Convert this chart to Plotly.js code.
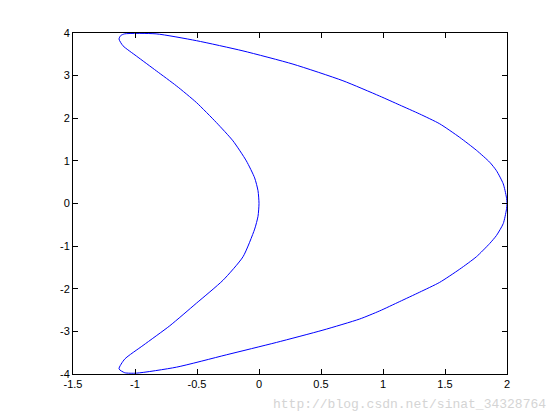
<html>
<head>
<meta charset="utf-8">
<script src="https://cdn.plot.ly/plotly-3.0.1.min.js"></script>
<style>
  body { margin: 0; background: #fff; }
  #plot { width: 560px; height: 420px; }
</style>
</head>
<body>
<div id="plot"></div>
<script>
// closed curve (starts at the inner nose x=0, goes up, round the top, down the outside)
var curveX = [0, -0.008, -0.035, -0.102, -0.21, -0.344, -0.505, -0.666, -0.827, -0.989, -1.097, -1.129, -1.115, -1.083,
              -0.83, -0.505, -0.129, 0.274, 0.677, 0.973, 1.135, 1.296, 1.457, 1.619, 1.753, 1.86, 1.915, 1.97, 1.995, 2.0,
              1.995, 1.97, 1.915, 1.86, 1.753, 1.619, 1.457, 1.296, 1.135, 0.973, 0.812, 0.516, 0.140, -0.263, -0.666,
              -0.989, -1.083, -1.129, -1.083, -0.935, -0.72, -0.505, -0.29, -0.129, -0.035, -0.008, 0];
var curveY = [0, 0.3, 0.6, 1.0, 1.47, 1.90, 2.37, 2.76, 3.11, 3.46, 3.70, 3.86, 3.94, 3.98,
              3.98, 3.82, 3.58, 3.27, 2.88, 2.52, 2.31, 2.10, 1.87, 1.55, 1.25, 0.97, 0.77, 0.46, 0.15, 0,
              -0.15, -0.47, -0.75, -0.94, -1.25, -1.54, -1.85, -2.08, -2.30, -2.52, -2.71, -2.97, -3.26, -3.55, -3.84,
              -3.98, -3.97, -3.88, -3.65, -3.33, -2.87, -2.34, -1.80, -1.25, -0.6, -0.3, 0];

var xTicks = [-1.5, -1, -0.5, 0, 0.5, 1, 1.5, 2];
var yTicks = [-4, -3, -2, -1, 0, 1, 2, 3, 4];
var watermark = 'http://blog.csdn.net/sinat_34328764';

var trace = {
  x: curveX,
  y: curveY,
  mode: 'lines',
  type: 'scatter',
  line: { color: '#0000ff', width: 1, shape: 'spline', smoothing: 0.6 },
  hoverinfo: 'skip'
};

var axisStyle = {
  showgrid: false,
  zeroline: false,
  showline: true,
  linecolor: '#000',
  linewidth: 1,
  mirror: 'ticks',
  ticks: 'inside',
  ticklen: 5,
  tickcolor: '#000',
  tickfont: { family: 'Arial, "Liberation Sans", sans-serif', size: 11, color: '#000' }
};

var layout = {
  width: 560,
  height: 420,
  margin: { l: 73, r: 53, t: 33, b: 46 },
  paper_bgcolor: '#fff',
  plot_bgcolor: '#fff',
  showlegend: false,
  xaxis: Object.assign({}, axisStyle, {
    range: [-1.5, 2], tickvals: xTicks, ticktext: xTicks.map(String)
  }),
  yaxis: Object.assign({}, axisStyle, {
    range: [-4, 4], tickvals: yTicks, ticktext: yTicks.map(String)
  }),
  annotations: [{
    text: watermark,
    xref: 'paper', yref: 'paper',
    x: 1.094, y: -0.09,
    xanchor: 'right', yanchor: 'middle',
    showarrow: false,
    font: { family: '"Liberation Mono", "DejaVu Sans Mono", monospace', size: 13, color: '#d4d4d4' }
  }]
};

Plotly.newPlot('plot', [trace], layout, { staticPlot: true, displayModeBar: false });
</script>
</body>
</html>
